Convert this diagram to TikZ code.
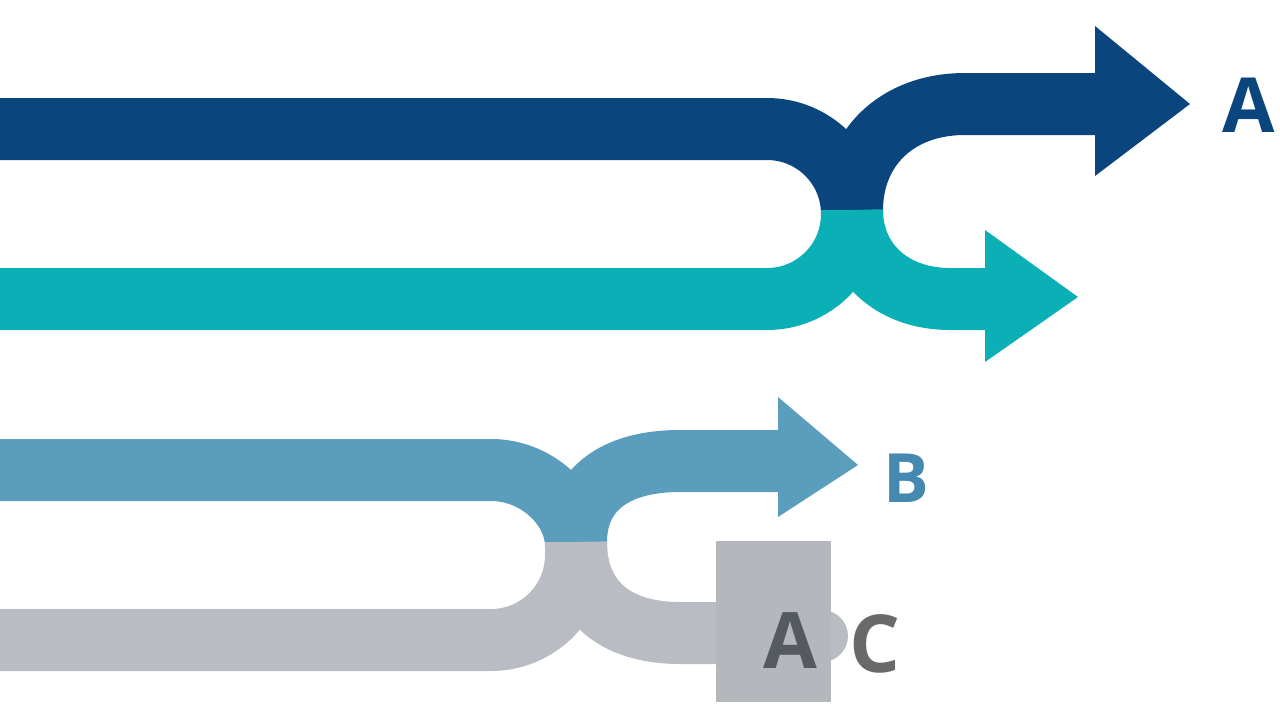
\documentclass[tikz,border=0pt]{standalone}
\usepackage{fontspec}
\setmainfont{Open Sans}
\definecolor{navy}{HTML}{0B457E}
\definecolor{tealc}{HTML}{0BAFB6}
\definecolor{steel}{HTML}{5A9DBD}
\definecolor{grayband}{HTML}{B9BCC2}
\definecolor{boxgray}{HTML}{B4B7BC}
\definecolor{boxtext}{HTML}{555960}
\definecolor{ctext}{HTML}{6A6A6A}
\definecolor{blabel}{HTML}{4689B0}
\tikzset{
  band/.style={line width=62pt, line cap=butt, line join=round},
  lbl/.style={inner sep=0pt, anchor=base, font=\bfseries},
}
\begin{document}
\begin{tikzpicture}[x=1pt,y=-1pt]
\useasboundingbox (0,0) rectangle (1280,720);
% ---- top group ----
\coordinate (j1) at (852,210);
\draw[band,navy] (0,129) -- (767,129) .. controls (814,129) and (852,167) .. (852,214);
\draw[band,navy] (j1) .. controls (852,150) and (895,104) .. (965,104) -- (1096,104);
\fill[navy] (1095,26) -- (1190,104) -- (1095,176) -- cycle;
\draw[band,tealc] (j1) -- (852,214) .. controls (852,261) and (814,299) .. (767,299) -- (0,299);
\draw[band,tealc] (j1) .. controls (852,262) and (892,299) .. (950,299) -- (986,299);
\fill[tealc] (985,230) -- (1078,297) -- (985,362) -- cycle;
\node[lbl,text=navy,font=\bfseries\fontsize{76}{76}\selectfont] (la) at (1249,132) {A};
% ---- bottom group ----
\coordinate (j2) at (576,542);
\draw[band,steel] (0,470) -- (491,470) .. controls (538,470) and (576,508) .. (576,546);
\draw[band,steel] (j2) .. controls (576,492) and (612,461) .. (680,461) -- (779,461);
\fill[steel] (778,397) -- (858,465) -- (778,517) -- cycle;
\node[lbl,text=blabel,font=\bfseries\fontsize{68}{68}\selectfont] (lb) at (906,502) {B};
\fill[grayband] (822,636) circle[radius=26];
\node[fill=boxgray, inner sep=0pt, minimum width=115pt, minimum height=161pt] (box) at (773.5,621.5) {};
\draw[band,grayband] (j2) -- (576,555) .. controls (576,602) and (538,640) .. (491,640) -- (0,640);
\draw[band,grayband] (j2) .. controls (576,598) and (612,633) .. (680,633) -- (box.west |- 0,633);
\node[lbl,text=boxtext,font=\bfseries\fontsize{78}{78}\selectfont] (la2) at (790,668) {A};
\node[lbl,text=ctext,font=\bfseries\fontsize{80}{80}\selectfont] (lc) at (875,672) {C};
\end{tikzpicture}
\end{document}
